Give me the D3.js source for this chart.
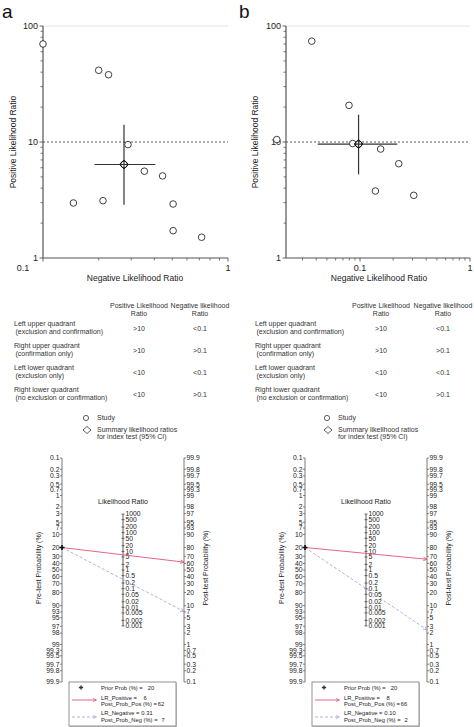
<!DOCTYPE html>
<html><head><meta charset="utf-8">
<script src="https://cdnjs.cloudflare.com/ajax/libs/d3/7.8.5/d3.min.js"></script>
<style>
body{margin:0;background:#fff;}
svg{display:block;font-family:"Liberation Sans",Arial,sans-serif;}
</style></head>
<body><svg id="c" width="474" height="727"></svg>
<script>
// ---------- DATA ----------
// Panel a: study estimates
const negLR_a = [0.10, 0.20, 0.226, 0.288, 0.353, 0.443, 0.146, 0.211, 0.505, 0.505, 0.72];
const posLR_a = [70, 41.5, 38, 9.5, 5.6, 5.1, 2.98, 3.12, 2.92, 1.72, 1.51];
const summaryNeg_a = [0.274, 0.19, 0.405];   // point, low, high
const summaryPos_a = [6.4, 2.88, 14.1];
// Panel b
const negLR_b = [0.0364, 0.0794, 0.0175, 0.0858, 0.154, 0.225, 0.138, 0.308];
const posLR_b = [74, 20.7, 10.5, 9.7, 8.7, 6.5, 3.78, 3.47];
const summaryNeg_b = [0.097, 0.0413, 0.218];
const summaryPos_b = [9.6, 5.26, 17.2];

const quadrantRows = [
  ["Left upper quadrant", "(exclusion and confirmation)", ">10", "<0.1"],
  ["Right upper quadrant", "(confirmation only)", ">10", ">0.1"],
  ["Left lower quadrant", "(exclusion only)", "<10", "<0.1"],
  ["Right lower quadrant", "(no exclusion or confirmation)", "<10", ">0.1"]
];

// Fagan nomogram
const preTicks = ["0.1","0.2","0.3","0.5","0.7","1","2","3","5","7","10","20","30","40","50","60","70","80","90","93","95","97","98","99","99.3","99.5","99.7","99.8","99.9"];
const postTicks = ["99.9","99.8","99.7","99.5","99.3","99","98","97","95","93","90","80","70","60","50","40","30","20","10","7","5","3","2","1","0.7","0.5","0.3","0.2","0.1"];
const lrTicks = ["1000","500","200","100","50","20","10","5","2","1","0.5","0.2","0.1","0.05","0.02","0.01","0.005","0.002","0.001"];
const priorProb = [20, 20];          // a, b
const lrPos = [6.5, 7.76];           // a, b
const lrNeg = [0.31, 0.10];
const legendLRPos = ["6", "8"];
const legendPostPos = ["62", "66"];
const legendLRNeg = ["0.31", "0.10"];
const legendPostNeg = ["7", "2"];

// ---------- DRAW ----------
const svg = d3.select("#c");
const FONT = "#222";

function scatter(opt){
  const g = svg.append("g");
  const x = d3.scaleLog().domain(opt.xdom).range(opt.xr);
  const y = d3.scaleLog().domain([1,100]).range([258,26]);
  g.append("line").attr("x1",opt.xr[0]).attr("x2",opt.xr[1]).attr("y1",y(100)).attr("y2",y(100))
    .attr("stroke","#e4e4e4").attr("stroke-width",1);
  g.append("line").attr("x1",opt.xr[0]).attr("x2",opt.xr[1]).attr("y1",y(10)).attr("y2",y(10))
    .attr("stroke","#333").attr("stroke-width",0.8).attr("stroke-dasharray","2,2");
  g.append("line").attr("x1",opt.xr[0]).attr("x2",opt.xr[0]).attr("y1",y(1)).attr("y2",y(100))
    .attr("stroke","#555").attr("stroke-width",1.2);
  g.append("line").attr("x1",opt.xr[0]).attr("x2",opt.xr[1]).attr("y1",y(1)).attr("y2",y(1))
    .attr("stroke","#555").attr("stroke-width",1.2);
  const ymin = [2,3,4,5,6,7,8,9,20,30,40,50,60,70,80,90];
  ymin.forEach(v=>g.append("line").attr("x1",opt.xr[0]-2.5).attr("x2",opt.xr[0]).attr("y1",y(v)).attr("y2",y(v)).attr("stroke","#555").attr("stroke-width",0.8));
  [1,10,100].forEach(v=>{
    g.append("line").attr("x1",opt.xr[0]-3.5).attr("x2",opt.xr[0]).attr("y1",y(v)).attr("y2",y(v)).attr("stroke","#555").attr("stroke-width",0.9);
    g.append("text").attr("x",opt.xr[0]-5).attr("y",y(v)).attr("dy","0.35em").attr("text-anchor","end")
      .attr("font-size",9).attr("fill",FONT).text(v);
  });
  opt.xminor.forEach(v=>g.append("line").attr("x1",x(v)).attr("x2",x(v)).attr("y1",y(1)).attr("y2",y(1)+2.5).attr("stroke","#555").attr("stroke-width",0.8));
  opt.xmajor.forEach((v,i)=>{
    g.append("line").attr("x1",x(v)).attr("x2",x(v)).attr("y1",y(1)).attr("y2",y(1)+3.5).attr("stroke","#555").attr("stroke-width",0.9);
    g.append("text").attr("x",x(v)+(opt.xlabDx[i]||0)).attr("y",268).attr("dy","0.35em").attr("text-anchor","middle")
      .attr("font-size",9).attr("fill",FONT).text(v);
  });
  g.append("text").attr("x",opt.xtitleX).attr("y",278).attr("dy","0.35em").attr("text-anchor","middle")
    .attr("font-size",8.5).attr("fill",FONT).text("Negative Likelihood Ratio");
  g.append("text").attr("transform",`translate(${opt.ytitleX},142) rotate(-90)`).attr("dy","0.35em").attr("text-anchor","middle")
    .attr("font-size",8.5).attr("fill",FONT).text("Positive Likelihood Ratio");
  g.append("text").attr("x",opt.letterX).attr("y",17.5).attr("font-size",19).attr("fill","#111").text(opt.letter);
  g.append("line").attr("x1",x(opt.sn[1])).attr("x2",x(opt.sn[2])).attr("y1",y(opt.sp[0])).attr("y2",y(opt.sp[0]))
    .attr("stroke","#333").attr("stroke-width",1.2);
  g.append("line").attr("x1",x(opt.sn[0])).attr("x2",x(opt.sn[0])).attr("y1",y(opt.sp[1])).attr("y2",y(opt.sp[2]))
    .attr("stroke","#333").attr("stroke-width",1.2);
  opt.neg.forEach((v,i)=>{
    g.append("circle").attr("cx",x(v)).attr("cy",y(opt.pos[i])).attr("r",3.3)
      .attr("fill","#fff").attr("stroke","#111").attr("stroke-width",0.8);
  });
  const sx = x(opt.sn[0]), sy = y(opt.sp[0]);
  g.append("circle").attr("cx",sx).attr("cy",sy).attr("r",3.3).attr("fill","none").attr("stroke","#111").attr("stroke-width",0.8);
  g.append("path").attr("d",`M${sx-4.5},${sy}L${sx},${sy-4.5}L${sx+4.5},${sy}L${sx},${sy+4.5}Z`)
    .attr("fill","none").attr("stroke","#111").attr("stroke-width",0.9);
}

scatter({letter:"a", letterX:2, xdom:[0.1,1], xr:[43,228], neg:negLR_a, pos:posLR_a,
  sn:summaryNeg_a, sp:summaryPos_a, xmajor:[0.1,1], xlabDx:[-20,0],
  xminor:[0.2,0.3,0.4,0.5,0.6,0.7,0.8,0.9], xtitleX:135, ytitleX:13});
scatter({letter:"b", letterX:239, xdom:[Math.pow(10,-1.673),1], xr:[286,470], neg:negLR_b, pos:posLR_b,
  sn:summaryNeg_b, sp:summaryPos_b, xmajor:[0.1,1], xlabDx:[0,0],
  xminor:[0.03,0.04,0.05,0.06,0.07,0.08,0.09,0.2,0.3,0.4,0.5,0.6,0.7,0.8,0.9], xtitleX:379, ytitleX:255});

function table(dx, colA, colB){
  const g = svg.append("g");
  const fs = 7;
  const t = (x,y,s,anchor)=>g.append("text").attr("x",x).attr("y",y).attr("dy","0.35em")
    .attr("text-anchor",anchor||"start").attr("font-size",fs).attr("fill","#333").text(s);
  t(colA,306,"Positive Likelihood","middle"); t(colA,313.5,"Ratio","middle");
  t(colB,306,"Negative likelihood","middle"); t(colB,313.5,"Ratio","middle");
  const ys = [324,346,368,390];
  quadrantRows.forEach((r,i)=>{
    t(dx+14,ys[i],r[0]); t(dx+15.5,ys[i]+8,r[1]);
    t(colA,ys[i]+5,r[2],"middle"); t(colB,ys[i]+5,r[3],"middle");
  });
  g.append("circle").attr("cx",dx+86).attr("cy",418).attr("r",2.6).attr("fill","#fff").attr("stroke","#333").attr("stroke-width",0.8);
  t(dx+97,418,"Study");
  const cx=dx+87, cy=430;
  g.append("path").attr("d",`M${cx-4},${cy}L${cx},${cy-3.5}L${cx+4},${cy}L${cx},${cy+3.5}Z`).attr("fill","none").attr("stroke","#333").attr("stroke-width",0.8);
  t(dx+97,430,"Summary likelihood ratios");
  t(dx+97,437,"for index test (95% CI)");
}
table(0,139,200);
table(241,381,443);

function nomogram(dx, idx){
  const g = svg.append("g");
  const logit = p => Math.log(p/(1-p));
  const yL = d3.scaleLinear().domain([logit(0.001),logit(0.999)]).range([458,682]);
  const yR = d3.scaleLinear().domain([logit(0.001),logit(0.999)]).range([682,458]);
  const yM = d3.scaleLog().domain([1000,0.001]).range([570-3*18.65,570+3*18.65]);
  const xL = dx+62, xR = dx+184, xM = dx+123;
  const fs = 6.8;
  g.append("line").attr("x1",xL).attr("x2",xL).attr("y1",yL(logit(0.001))).attr("y2",yL(logit(0.999))).attr("stroke","#555").attr("stroke-width",0.8);
  g.append("line").attr("x1",xR).attr("x2",xR).attr("y1",yR(logit(0.999))).attr("y2",yR(logit(0.001))).attr("stroke","#555").attr("stroke-width",0.8);
  g.append("line").attr("x1",xM).attr("x2",xM).attr("y1",yM(1000)).attr("y2",yM(0.001)).attr("stroke","#333").attr("stroke-width",0.8);
  preTicks.forEach(s=>{
    const yy = yL(logit(+s/100));
    g.append("line").attr("x1",xL-2).attr("x2",xL).attr("y1",yy).attr("y2",yy).attr("stroke","#555").attr("stroke-width",0.7);
    g.append("text").attr("x",xL-2.5).attr("y",yy).attr("dy","0.35em").attr("text-anchor","end").attr("font-size",fs).attr("fill",FONT).text(s);
  });
  postTicks.forEach(s=>{
    const yy = yR(logit(+s/100));
    g.append("line").attr("x1",xR).attr("x2",xR+2).attr("y1",yy).attr("y2",yy).attr("stroke","#555").attr("stroke-width",0.7);
    g.append("text").attr("x",xR+2.5).attr("y",yy).attr("dy","0.35em").attr("text-anchor","start").attr("font-size",fs).attr("fill",FONT).text(s);
  });
  lrTicks.forEach(s=>{
    const yy = yM(+s);
    g.append("line").attr("x1",xM-1.5).attr("x2",xM+1.5).attr("y1",yy).attr("y2",yy).attr("stroke","#333").attr("stroke-width",0.7);
    g.append("text").attr("x",xM+2.5).attr("y",yy).attr("dy","0.35em").attr("text-anchor","start").attr("font-size",fs).attr("fill",FONT).text(s);
  });
  g.append("text").attr("x",xM).attr("y",502).attr("dy","0.35em").attr("text-anchor","middle").attr("font-size",7).attr("fill",FONT).text("Likelihood Ratio");
  g.append("text").attr("transform",`translate(${dx+39},568) rotate(-90)`).attr("dy","0.35em").attr("text-anchor","middle").attr("font-size",7).attr("fill",FONT).text("Pre-test Probability (%)");
  g.append("text").attr("transform",`translate(${dx+206},568) rotate(-90)`).attr("dy","0.35em").attr("text-anchor","middle").attr("font-size",7).attr("fill",FONT).text("Post-test Probability (%)");
  const pre = priorProb[idx]/100;
  const y0 = yL(logit(pre));
  const yPos = yR(logit(pre)+Math.log(lrPos[idx]));
  const yNeg = yR(logit(pre)+Math.log(lrNeg[idx]));
  const red = "#e0557a", lav = "#a9a9dc";
  function arrow(x1,y1,x2,y2,col,dash){
    g.append("line").attr("x1",x1).attr("y1",y1).attr("x2",x2).attr("y2",y2).attr("stroke",col).attr("stroke-width",0.9)
      .attr("stroke-dasharray",dash||null);
    const a = Math.atan2(y2-y1,x2-x1), L=4, w=0.45;
    g.append("path").attr("d",`M${x2-L*Math.cos(a-w)},${y2-L*Math.sin(a-w)}L${x2},${y2}L${x2-L*Math.cos(a+w)},${y2-L*Math.sin(a+w)}`)
      .attr("fill","none").attr("stroke",col).attr("stroke-width",0.9);
  }
  arrow(xL,y0,xR,yPos,red);
  arrow(xL,y0,xR,yNeg,lav,"3,2");
  g.append("path").attr("d",d3.symbol(d3.symbolCross,14)()).attr("transform",`translate(${xL},${y0})`).attr("fill","#111");
  const bx = dx+69, by = 682, bw = 107, bh = 44;
  g.append("rect").attr("x",bx+1).attr("y",by+1).attr("width",bw).attr("height",bh).attr("fill","#ccc");
  g.append("rect").attr("x",bx).attr("y",by).attr("width",bw).attr("height",bh).attr("fill","#fff").attr("stroke","#777").attr("stroke-width",0.8);
  const lf = 5.8;
  const t = (x,y,s,anchor)=>g.append("text").attr("x",x).attr("y",y).attr("dy","0.35em").attr("text-anchor",anchor||"start").attr("font-size",lf).attr("fill",FONT).text(s);
  g.append("path").attr("d",d3.symbol(d3.symbolCross,10)()).attr("transform",`translate(${dx+81},${by+5.5})`).attr("fill","#333");
  t(dx+101,by+6,"Prior Prob (%) ="); t(dx+151,by+6,String(priorProb[idx]),"middle");
  g.append("line").attr("x1",dx+72).attr("x2",dx+96).attr("y1",by+18).attr("y2",by+18).attr("stroke",red).attr("stroke-width",0.9);
  g.append("path").attr("d",`M${dx+93},${by+16.5}L${dx+96.5},${by+18}L${dx+93},${by+19.5}`).attr("fill","none").attr("stroke",red).attr("stroke-width",0.8);
  t(dx+101,by+16,"LR_Positive ="); t(dx+145,by+16,legendLRPos[idx],"middle");
  t(dx+101,by+22,"Post_Prob_Pos (%) ="); t(dx+161,by+22,legendPostPos[idx],"middle");
  g.append("line").attr("x1",dx+72).attr("x2",dx+96).attr("y1",by+35).attr("y2",by+35).attr("stroke",lav).attr("stroke-width",0.9).attr("stroke-dasharray","3,2");
  g.append("path").attr("d",`M${dx+93},${by+33.5}L${dx+96.5},${by+35}L${dx+93},${by+36.5}`).attr("fill","none").attr("stroke",lav).attr("stroke-width",0.8);
  t(dx+101,by+31,"LR_Negative ="); t(dx+147,by+31,legendLRNeg[idx],"middle");
  t(dx+101,by+38,"Post_Prob_Neg (%) ="); t(dx+163,by+38,legendPostNeg[idx],"middle");
}
nomogram(0,0);
nomogram(243,1);
</script></body></html>
